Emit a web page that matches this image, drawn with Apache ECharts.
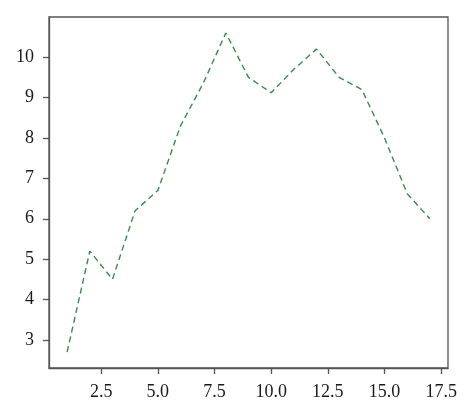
<!DOCTYPE html>
<html>
<head>
<meta charset="utf-8">
<script src="https://cdn.jsdelivr.net/npm/echarts@6/dist/echarts.min.js"></script>
<style>
html,body{margin:0;padding:0;background:#fff;}
#chart{width:474px;height:415px;}
</style>
</head>
<body>
<div id="chart"></div>
<script>
const xValues = [1,2,3,4,5,6,7,8,9,10,11,12,13,14,15,16,17];
const yValues = [2.7,5.2,4.5,6.2,6.7,8.3,9.35,10.6,9.5,9.12,9.7,10.2,9.5,9.2,8.0,6.62,6.0];
const xTicks = [2.5,5.0,7.5,10.0,12.5,15.0,17.5];
const yTicks = [3,4,5,6,7,8,9,10];

const chart = echarts.init(document.getElementById('chart'), null, {renderer:'canvas'});
const font = "'Liberation Serif', 'DejaVu Serif', serif";
const axisColor = '#555555';
chart.setOption({
  animation:false,
  backgroundColor:'#ffffff',
  grid:{left:49,right:26,top:17,bottom:47,show:true,borderColor:axisColor,borderWidth:1.3,backgroundColor:'transparent'},
  xAxis:{
    type:'value', min:0.2, max:17.8,
    axisLine:{show:true,lineStyle:{color:axisColor,width:1.3}},
    axisTick:{show:true,customValues:xTicks,length:6,lineStyle:{color:axisColor,width:1.3}},
    axisLabel:{customValues:xTicks,formatter:v=>v.toFixed(1),color:'#1a1a1a',fontFamily:font,fontSize:18,margin:15},
    splitLine:{show:false}
  },
  yAxis:{
    type:'value', min:2.305, max:10.995,
    axisLine:{show:true,lineStyle:{color:axisColor,width:1.3}},
    axisTick:{show:true,customValues:yTicks,length:6,lineStyle:{color:axisColor,width:1.3}},
    axisLabel:{customValues:yTicks,formatter:v=>String(v),color:'#1a1a1a',fontFamily:font,fontSize:18,margin:15},
    splitLine:{show:false}
  },
  series:[{
    type:'line',
    data:xValues.map((x,i)=>[x,yValues[i]]),
    showSymbol:false,
    symbol:'none',
    lineStyle:{color:'#3a8c48',width:1.4,type:[6,4]}
  }]
});
</script>
</body>
</html>
